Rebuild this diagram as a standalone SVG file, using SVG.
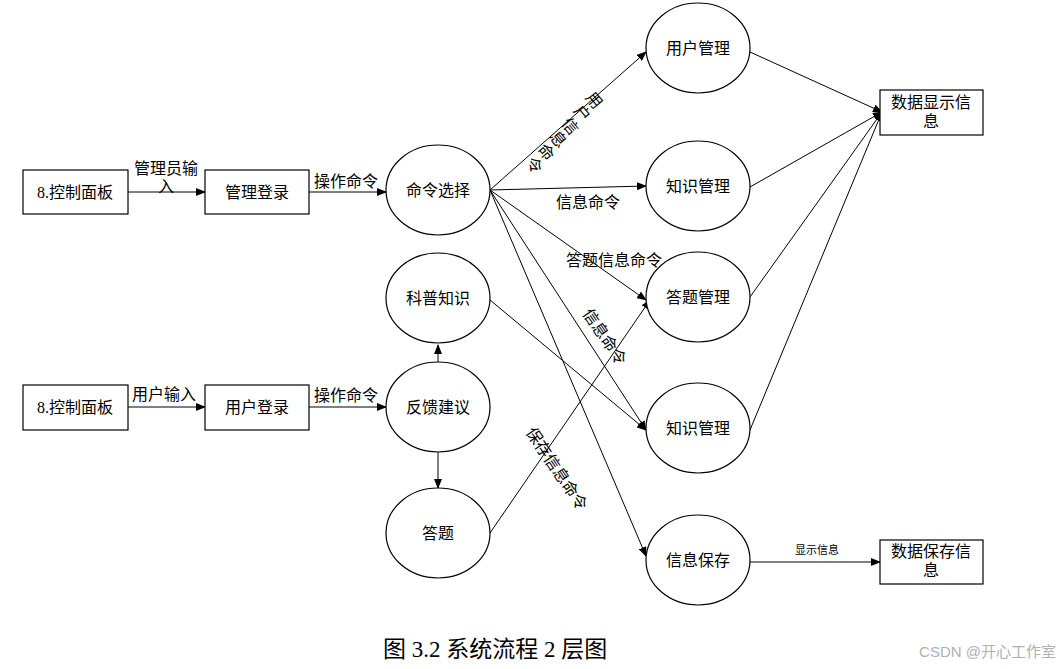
<svg xmlns="http://www.w3.org/2000/svg" width="1063" height="669" viewBox="0 0 1063 669">
<defs><marker id="a" markerWidth="10" markerHeight="8" refX="9" refY="4" orient="auto" markerUnits="userSpaceOnUse"><path d="M0,0L10,4L0,8z" fill="#000"/></marker></defs>
<style>
.n{fill:#fff;stroke:#000;stroke-width:1.2}
.t{font-family:"Liberation Serif","Noto Sans CJK SC",serif;font-size:16px;text-anchor:middle;fill:#000}
.l{fill:none;stroke:#000;stroke-width:1;marker-end:url(#a)}
.p{fill:none;stroke:#000;stroke-width:1}
</style>
<rect width="1063" height="669" fill="#fff"/>
<g id="connectors">
<path class="l" d="M128,192H205"/><path class="l" d="M309,192H386"/>
<path class="l" d="M128,407H205"/><path class="l" d="M309,407H386"/>
<path class="l" d="M438,362V345"/><path class="l" d="M438,452V488"/>
<path class="l" d="M490,190L646,52"/><path class="l" d="M490,190L646,186"/>
<path class="l" d="M490,190L646,300"/><path class="l" d="M490,190L646,430"/>
<path class="l" d="M490,190L646,556"/><path class="l" d="M490,300L646,430"/>
<path class="l" d="M490,533L650,300"/>
<path class="l" d="M750,52L882,112"/><path class="l" d="M750,187L882,112"/>
<path class="l" d="M750,297L882,112"/><path class="l" d="M750,430L882,112"/>
<path class="l" d="M750,562H880"/>
</g>
<g class="t">
<text x="166" y="174">管理员输</text><text x="166" y="192">入</text>
<text x="346" y="187">操作命令</text>
<text x="164" y="400">用户输入</text><text x="346" y="401">操作命令</text>
<text x="588" y="208">信息命令</text>
<text x="614" y="266">答题信息命令</text>
<text x="817" y="554" style="font-size:11px">显示信息</text>
<text transform="translate(600,340) rotate(56)">信息命令</text>
<text transform="translate(552,472) rotate(56)">保存信息命令</text>
<text transform="translate(590,104) rotate(50)">用</text>
<text transform="translate(578,117) rotate(50)">户</text>
<text transform="translate(566,130) rotate(50)">信</text>
<text transform="translate(554,143) rotate(50)">息</text>
<text transform="translate(542,156) rotate(50)">命</text>
<text transform="translate(530,169) rotate(50)">令</text>
</g>
<g id="n1"><rect class="n" x="23" y="170" width="105" height="44"/><text class="t" x="75" y="198">8.控制面板</text></g>
<g id="n2"><rect class="n" x="205" y="170" width="104" height="44"/><text class="t" x="257" y="198">管理登录</text></g>
<g id="n3"><rect class="n" x="23" y="385" width="105" height="45"/><text class="t" x="75" y="413">8.控制面板</text></g>
<g id="n4"><rect class="n" x="205" y="385" width="104" height="45"/><text class="t" x="257" y="413">用户登录</text></g>
<g id="n5"><ellipse class="n" cx="438" cy="190" rx="52" ry="45"/><text class="t" x="438" y="196">命令选择</text></g>
<g id="n6"><ellipse class="n" cx="438" cy="298" rx="52" ry="45"/><text class="t" x="438" y="304">科普知识</text></g>
<g id="n7"><ellipse class="n" cx="438" cy="407" rx="52" ry="45"/><text class="t" x="438" y="413">反馈建议</text></g>
<g id="n8"><ellipse class="n" cx="438" cy="533" rx="52" ry="45"/><text class="t" x="438" y="539">答题</text></g>
<g id="n9"><ellipse class="n" cx="698" cy="48" rx="52" ry="45"/><text class="t" x="698" y="54">用户管理</text></g>
<g id="n10"><ellipse class="n" cx="698" cy="186" rx="52" ry="45"/><text class="t" x="698" y="192">知识管理</text></g>
<g id="n11"><ellipse class="n" cx="698" cy="297" rx="52" ry="45"/><text class="t" x="698" y="303">答题管理</text></g>
<g id="n12"><ellipse class="n" cx="698" cy="428" rx="52" ry="45"/><text class="t" x="698" y="434">知识管理</text></g>
<g id="n13"><ellipse class="n" cx="698" cy="560" rx="52" ry="45"/><text class="t" x="698" y="566">信息保存</text></g>
<g id="n14"><rect class="n" x="880" y="90" width="103" height="45"/><text class="t" x="931" y="108">数据显示信</text><text class="t" x="931" y="127">息</text></g>
<g id="n15"><rect class="n" x="880" y="540" width="103" height="44"/><text class="t" x="931" y="557">数据保存信</text><text class="t" x="931" y="576">息</text></g>
<text x="495" y="657" style="font-family:'Liberation Serif','Noto Sans CJK SC',serif;font-size:23px;text-anchor:middle">图 3.2 系统流程 2 层图</text>
<text x="1056" y="657" style="font-family:'Liberation Sans','Noto Sans CJK SC',sans-serif;font-size:15px;text-anchor:end;fill:#b0b0b0">CSDN @开心工作室</text>
</svg>
